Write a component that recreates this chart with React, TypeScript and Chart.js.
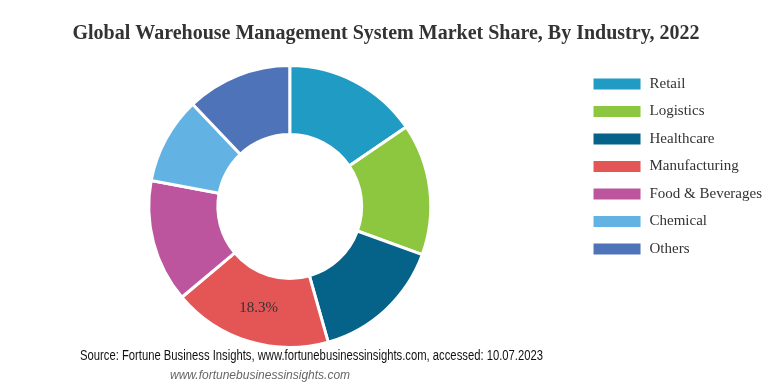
import React, { useEffect, useRef } from "react";
import { Chart, registerables } from "chart.js";

Chart.register(...registerables);

const TITLE = "Global Warehouse Management System Market Share, By Industry, 2022";
const categories = ["Retail", "Logistics", "Healthcare", "Manufacturing", "Food & Beverages", "Chemical", "Others"];
const shares = [15.5, 15.1, 15.1, 18.3, 14.1, 10.0, 12.1];
const colors = ["#1F9BC4", "#8DC63F", "#05638A", "#E45555", "#BC559D", "#62B3E3", "#4E73B8"];
const labelledIndex = 3;
const SOURCE = "Source: Fortune Business Insights, www.fortunebusinessinsights.com, accessed: 10.07.2023";
const WATERMARK = "www.fortunebusinessinsights.com";

const sliceLabelPlugin = {
  id: "sliceLabel",
  afterDatasetsDraw(chart: any) {
    const meta = chart.getDatasetMeta(0);
    const arc = meta.data[labelledIndex];
    if (!arc) return;
    const pos = arc.tooltipPosition();
    const ctx = chart.ctx;
    ctx.save();
    ctx.font = "15px 'Liberation Serif', 'Times New Roman', serif";
    ctx.fillStyle = "#333333";
    ctx.textAlign = "center";
    ctx.textBaseline = "middle";
    ctx.fillText(shares[labelledIndex].toFixed(1) + "%", pos.x, pos.y);
    ctx.restore();
  },
};

export default function App() {
  const ref = useRef<HTMLCanvasElement>(null);
  useEffect(() => {
    if (!ref.current) return;
    const chart = new Chart(ref.current, {
      type: "doughnut",
      data: {
        labels: categories,
        datasets: [
          {
            data: shares,
            backgroundColor: colors,
            borderColor: "#ffffff",
            borderWidth: 3,
          },
        ],
      },
      options: {
        animation: false,
        responsive: false,
        cutout: "51%",
        layout: { padding: { top: 22, bottom: 38, left: 0, right: 6 } },
        plugins: {
          title: {
            display: true,
            text: TITLE,
            color: "#333333",
            font: { family: "'Liberation Serif', 'Times New Roman', serif", size: 20, weight: "bold" },
            padding: { top: 0, bottom: 18 },
          },
          legend: {
            position: "right",
            align: "start",
            fullSize: false,
            labels: {
              boxWidth: 50,
              boxHeight: 14,
              padding: 12.5,
              color: "#333333",
              font: { family: "'Liberation Serif', 'Times New Roman', serif", size: 15 },
            },
          },
          tooltip: { enabled: false },
        },
      },
      plugins: [sliceLabelPlugin],
    });
    return () => chart.destroy();
  }, []);

  return (
    <div style={{ position: "absolute", left: 0, top: 0, width: 778, height: 387, background: "#fff" }}>
      <canvas ref={ref} width={778} height={387} style={{ display: "block" }} />
      <div
        style={{
          position: "absolute",
          left: 80,
          top: 347,
          fontFamily: "'Liberation Sans', Arial, sans-serif",
          fontSize: 14,
          color: "#111",
          whiteSpace: "nowrap",
          transform: "scaleX(0.804)",
          transformOrigin: "left top",
        }}
      >
        {SOURCE}
      </div>
      <div
        style={{
          position: "absolute",
          left: 170,
          top: 368,
          fontFamily: "'Liberation Sans', Arial, sans-serif",
          fontStyle: "italic",
          fontSize: 12,
          color: "#666",
          whiteSpace: "nowrap",
        }}
      >
        {WATERMARK}
      </div>
    </div>
  );
}
